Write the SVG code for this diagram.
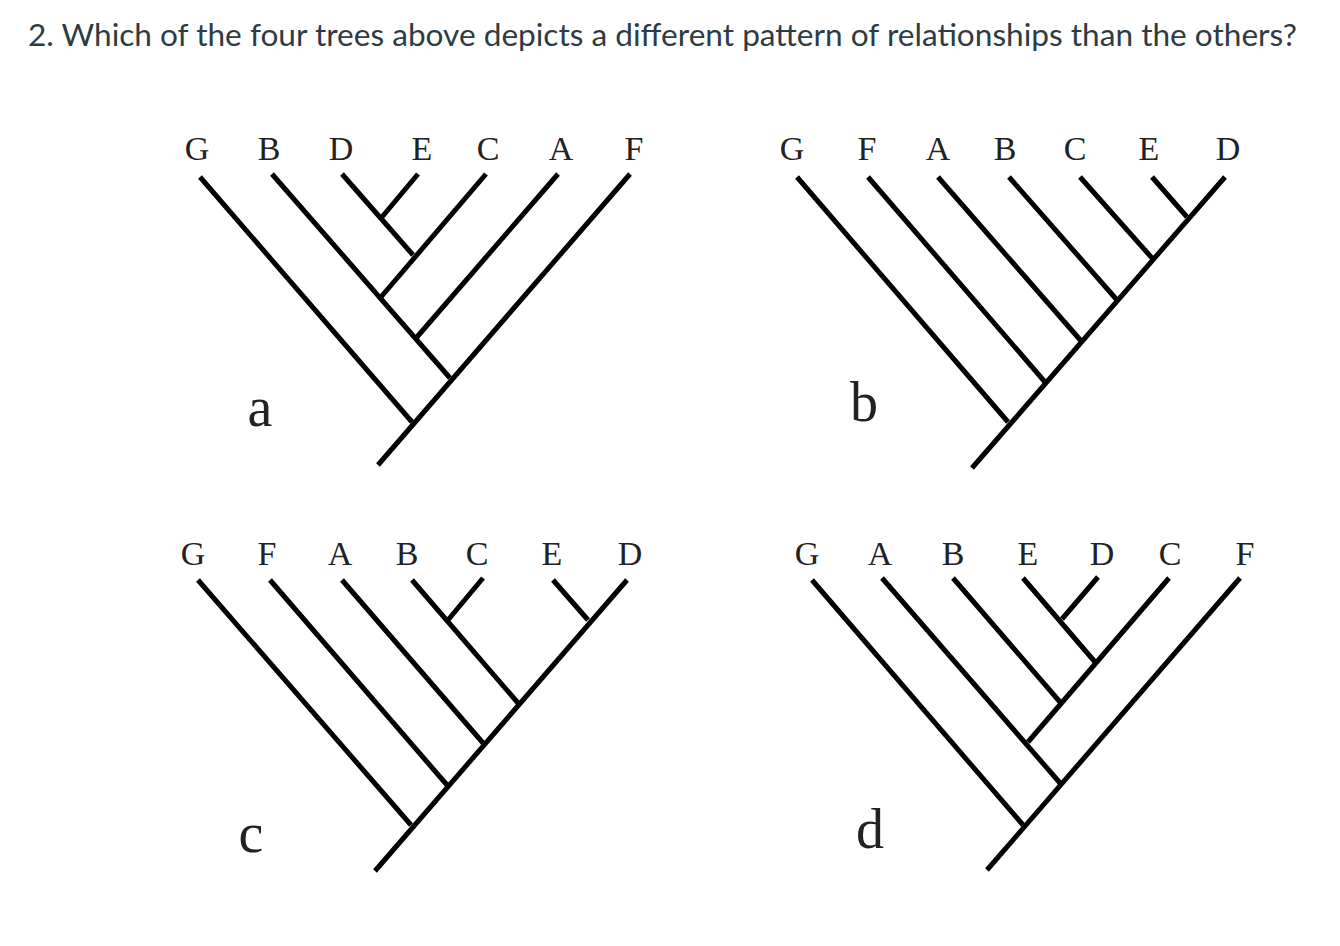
<svg xmlns="http://www.w3.org/2000/svg" width="1340" height="946" viewBox="0 0 1340 946">
<style>
.t{font-family:Lato,"Open Sans",sans-serif;font-size:31.6px;fill:#2d3b45}
.l{font-family:"Liberation Serif","DejaVu Serif",serif;font-size:34px;fill:#222;text-anchor:middle}
.n{font-family:"Liberation Serif","DejaVu Serif",serif;font-size:56px;fill:#222;text-anchor:middle}
line{stroke:#000;stroke-width:5;stroke-linecap:butt}
</style>
<rect width="1340" height="946" fill="#fff"/>
<text class="t" x="28" y="46">2. Which of the four trees above depicts a different pattern of relationships than the others?</text>
<g id="tree-a">
<text class="l" x="197" y="160">G</text><text class="l" x="269" y="160">B</text><text class="l" x="341" y="160">D</text><text class="l" x="422" y="160">E</text><text class="l" x="488" y="160">C</text><text class="l" x="561" y="160">A</text><text class="l" x="634" y="160">F</text>
<text class="n" x="260" y="426">a</text>
</g>
<g id="tree-b">
<text class="l" x="792" y="160">G</text><text class="l" x="867" y="160">F</text><text class="l" x="938" y="160">A</text><text class="l" x="1005" y="160">B</text><text class="l" x="1075" y="160">C</text><text class="l" x="1149" y="160">E</text><text class="l" x="1228" y="160">D</text>
<text class="n" x="864" y="421">b</text>
</g>
<g id="tree-c">
<text class="l" x="193" y="565">G</text><text class="l" x="267" y="565">F</text><text class="l" x="340" y="565">A</text><text class="l" x="407" y="565">B</text><text class="l" x="477" y="565">C</text><text class="l" x="552" y="565">E</text><text class="l" x="630" y="565">D</text>
<text class="n" x="251" y="852">c</text>
</g>
<g id="tree-d">
<text class="l" x="807" y="565">G</text><text class="l" x="880" y="565">A</text><text class="l" x="953" y="565">B</text><text class="l" x="1028" y="565">E</text><text class="l" x="1102" y="565">D</text><text class="l" x="1170" y="565">C</text><text class="l" x="1245" y="565">F</text>
<text class="n" x="870" y="848">d</text>
</g>
<g id="connectors">
<line x1="200" y1="177" x2="412" y2="422"/><line x1="630" y1="174" x2="378" y2="465"/><line x1="272" y1="174" x2="450" y2="378"/><line x1="342" y1="174" x2="413" y2="255"/><line x1="418" y1="174" x2="382" y2="217"/><line x1="486" y1="174" x2="381" y2="297"/><line x1="558" y1="174" x2="417" y2="337"/>
<line x1="797" y1="177" x2="1008" y2="422"/><line x1="1225" y1="177" x2="972" y2="468"/><line x1="868" y1="177" x2="1045" y2="382"/><line x1="938" y1="177" x2="1082" y2="342"/><line x1="1009" y1="177" x2="1117" y2="300"/><line x1="1080" y1="177" x2="1152" y2="258"/><line x1="1152" y1="177" x2="1187" y2="217"/>
<line x1="198" y1="580" x2="411" y2="825"/><line x1="627" y1="580" x2="375" y2="871"/><line x1="270" y1="580" x2="447" y2="785"/><line x1="342" y1="580" x2="483" y2="743"/><line x1="412" y1="580" x2="518" y2="703"/><line x1="483" y1="578" x2="448" y2="620"/><line x1="553" y1="580" x2="588" y2="620"/>
<line x1="812" y1="580" x2="1023" y2="825"/><line x1="1240" y1="578" x2="987" y2="870"/><line x1="882" y1="578" x2="1060" y2="783"/><line x1="953" y1="578" x2="1060" y2="702"/><line x1="1023" y1="578" x2="1095" y2="662"/><line x1="1098" y1="577" x2="1062" y2="619"/><line x1="1169" y1="578" x2="1028" y2="742"/>
</g>
</svg>
